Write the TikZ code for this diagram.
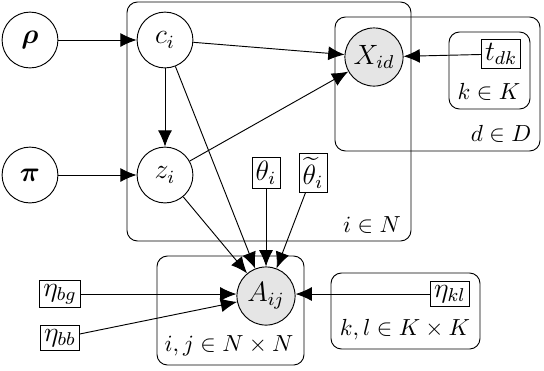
\documentclass[tikz,border=0pt]{standalone}
\usepackage{amsmath}
\usepackage{amssymb}
\usepackage{bm}
\usepackage{xcolor}
\usepackage{tikz}
\usetikzlibrary{
	arrows.meta,
	positioning
}
\tikzset{
	latent/.style={draw, circle, thin, fill=white, minimum size=24pt, inner sep=0pt, font=\large},
	observed/.style={latent, fill=black!10, minimum size=25pt},
	param/.style={draw, rectangle, thin, fill=white, inner sep=1.6pt, font=\large},
	plate/.style={draw, thin, rounded corners=4.5pt},
	edge/.style={-{Latex[length=7pt,width=6pt]}, thin}
}

\begin{document}
\begin{tikzpicture}[x=0.0151cm, y=-0.0151cm]
			\useasboundingbox (0,0) rectangle (544,370);
			% plates
			\draw[plate] (127,2) rectangle (411,241);
			\draw[plate] (335,17) rectangle (540,151);
			\draw[plate] (449,32) rectangle (530,109);
			\draw[plate] (157,256) rectangle (304,365);
			\draw[plate] (331,273) rectangle (480,349);
			\node (lblN) at (372,225) {$i \in N$};
			\node (lblD) at (501,134) {$d \in D$};
			\node (lblK) at (489,92) {$k \in K$};
			\node (lblNN) at (229,346) {$i,j \in N \times N$};
			\node (lblKK) at (405,330) {$k,l \in K \times K$};
			% variables
			\node[latent] (rho) at (30,40) {$\bm{\rho}$};
			\node[latent] (pi) at (30,175) {$\bm{\pi}$};
			\node[latent] (c) at (165,40) {$c_i$};
			\node[latent] (z) at (165,175) {$z_i$};
			\node[observed] (X) at (374,57) {$X_{id}$};
			\node[observed] (A) at (266,296) {$A_{ij}$};
			\node[param] (t) at (501,54) {$t_{dk}$};
			\node[param] (theta) at (266,173) {$\theta_i$};
			\node[param] (thetat) at (313,173) {$\widetilde{\theta}_i$};
			\node[param] (ebg) at (60,294) {$\eta_{bg}$};
			\node[param] (ebb) at (60,338) {$\eta_{bb}$};
			\node[param] (ekl) at (450,294) {$\eta_{kl}$};
			% edges
			\draw[edge] (rho) -- (c);
			\draw[edge] (pi) -- (z);
			\draw[edge] (c) -- (z);
			\draw[edge] (c) -- (X);
			\draw[edge] (z) -- (X);
			\draw[edge] (t) -- (X);
			\draw[edge] (c) -- (A);
			\draw[edge] (z) -- (A);
			\draw[edge] (theta) -- (A);
			\draw[edge] (thetat) -- (A);
			\draw[edge] (ebg) -- (ebg -| A.west);
			\draw[edge] (ebb) -- (A);
			\draw[edge] (ekl) -- (ekl -| A.east);
		\end{tikzpicture}
\end{document}
